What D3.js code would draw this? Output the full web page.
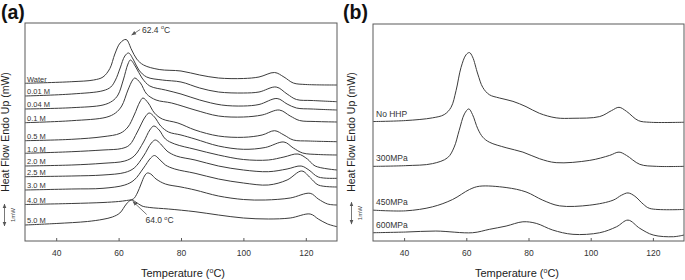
<!DOCTYPE html>
<html><head><meta charset="utf-8">
<script src="https://cdn.jsdelivr.net/npm/d3@7"></script>
<style>body{margin:0;background:#fff}svg{display:block}</style>
</head><body>
<script>
// ---------- DATA ----------
const xTicks = [40, 60, 80, 100, 120];
const xDomain = [30, 130];

// Panel (a): heat flow (arbitrary offset units, 1 mW ~ 22 units) vs temperature (°C)
const labelsA = ["Water","0.01 M","0.04 M","0.1 M","0.5 M","1.0 M","2.0 M","2.5 M","3.0 M","4.0 M","5.0 M"];
const aWater = [[30,157.7],[45,159.3],[52,161],[55,164],[57.2,172.5],[58.8,187],[60.5,198],[62.4,201.5],[64.2,191],[65.8,182],[68,176],[73,171.5],[80,170],[86,166],[92,163],[100,162.5],[105,164],[110,168.5],[113,164],[116,158],[120,156.5],[130,156]];
const a001 = [[30,145],[45,147],[55,150.3],[57.5,154],[59,161],[60.5,173],[62,185],[63.2,188],[64.8,181],[66.5,171],[69,164],[74,161],[80,159],[86,153],[92,149],[100,148],[105,149],[110.5,154],[114,147],[117,141.5],[122,140.5],[130,139.3]];
const a004 = [[30,132],[45,133.3],[55,136],[58,140],[59.8,146],[61.5,161],[63,177],[63.8,181],[65.5,174],[67.5,163],[70,155],[75,151],[80,147],[86,141],[93,136],[100,135],[105,136.5],[110.8,142.5],[114,137],[117,133],[122,132],[130,131]];
const a01 = [[30,118.3],[45,120.3],[56,123.7],[59,128],[61,135],[63,151],[64.5,161],[65.2,163],[67,158],[69,147],[72,141],[77,138],[84.5,131],[92,125],[100,124],[106,126],[111.5,131],[115,125],[118,120.5],[123,119.5],[130,119]];
const a05 = [[30,100.3],[45,101.7],[55,104.3],[60.5,107.7],[63,114],[65,126],[66.8,139],[67.8,143],[69.5,138],[71.5,128],[74,122],[79,118],[84.5,111],[92,105],[100,103.7],[106,106],[110,110.3],[113,106],[116,101],[121,100],[130,99.3]];
const a10 = [[30,87.7],[45,89.3],[55,91],[61,92.5],[63.5,96],[66,109],[68.5,124],[69.8,128],[71.5,124],[73.5,115],[76,109],[80,106],[84.5,102],[92,95],[100,91.7],[107,93.5],[113,99],[116,93],[119,88],[124,86.5],[130,86]];
const a20 = [[30,75],[45,76],[55,77.7],[62,80],[65,85],[68,99],[70,111],[71.3,115],[73,111],[75,102],[78,97],[84.5,91.7],[92,86],[100,81.5],[108,81],[113,84],[117.5,87],[120.5,82],[123,75],[130,71]];
const a25 = [[30,64.3],[45,65],[55,66],[62,68.5],[65,73],[68,85],[70.5,98],[71.8,101],[73.5,97],[75.5,90],[78.5,85],[84.5,81],[92,75],[100,71],[108,69.3],[114,72],[118.5,75],[121,71],[124,64],[130,62.7]];
const a30 = [[30,51],[45,52],[55,52.7],[62,56],[65,61],[68,73],[70.3,83],[71.5,85.5],[73,82],[75,76],[78,72],[84.5,67.7],[92,62],[100,58],[108,56],[114,61],[118.7,70],[121.5,63],[124,56],[130,54]];
const a40 = [[30,36.5],[45,37.5],[55,38.5],[60,39.5],[62.5,40.5],[64.7,42],[66,48],[67.2,57],[68.3,65],[69.2,68],[70.3,67],[72,62],[75,57],[80,54],[84.5,51],[92,45],[100,41.5],[107,41],[115,43],[121.4,47.7],[124,42],[127,37],[130,36]];
const a50 = [[30,16],[40,17.5],[50,19.5],[55,21.7],[58,24],[60.4,28],[62.5,37],[64,41],[65.5,39],[67.5,35],[70,33.5],[76,32],[84.5,29.3],[92,26],[100,23],[108,22],[115,23],[121.4,27],[124,22],[127,17],[130,14.3]];
const seriesA = [aWater,a001,a004,a01,a05,a10,a20,a25,a30,a40,a50];

// Panel (b)
const labelsB = ["No HHP","300MPa","450MPa","600MPa"];
const bNo = [[30,120],[40.5,121],[49.1,123.7],[52.9,127],[55.1,134.3],[56.7,151],[58.3,174.3],[59.9,187],[61,189.3],[62,185],[63.7,167.7],[65.3,154.3],[67.4,147],[70.6,143.7],[75,140.3],[79.2,135],[83.5,128.3],[88.9,123.7],[94.3,123.3],[102.9,125],[106.7,131],[109.1,134.3],[111.5,130.3],[115.3,121],[119,119.3],[130,119.3]];
const b300 = [[30,75],[40.5,75.7],[49.1,77.7],[54,83.7],[56.1,94.3],[57.7,111],[59.4,127.7],[60.8,132.7],[62,127],[63.7,112.7],[65.3,104.3],[67.4,99.3],[72.8,93.7],[78.2,89.3],[83.5,82.7],[88.9,78.7],[99.7,81],[106.1,86],[109.1,89.3],[111.5,86],[115.8,77],[121.2,75],[130,75]];
const b450 = [[30,31],[40.5,30.3],[49.1,34.3],[55.6,41.7],[61,51.7],[64.2,55],[72.8,53.7],[79.2,49.3],[84.6,41],[90,35.3],[99.7,36],[107.2,41],[109.9,46],[112,48.3],[114.2,45],[116.9,37],[119,32.7],[130,31.7]];
const b600 = [[30,8.3],[40.5,9],[50.2,10],[62,8.3],[67.4,11.7],[72.8,15],[78.2,19.3],[82.5,17.7],[87.8,11],[94.3,6.7],[102.9,8.3],[108.3,14.3],[112,21],[115.8,12.7],[120.1,6],[126.6,4.3],[130,6]];
const seriesB = [bNo,b300,b450,b600];

const yDomain = [0, 218];
const oneMW = 22;   // units per mW (scale bar)

// ---------- DRAW ----------
const W = 685, H = 280;
const FONT = "'Liberation Sans', Arial, Helvetica, sans-serif";
const svg = d3.select("body").append("svg").attr("width", W).attr("height", H)
  .style("font-family", FONT);

const defs = svg.append("defs");
defs.append("marker").attr("id","ah").attr("viewBox","0 0 10 10").attr("refX",9).attr("refY",5)
  .attr("markerWidth",6).attr("markerHeight",6).attr("orient","auto-start-reverse")
  .append("path").attr("d","M0,1 L10,5 L0,9 z").attr("fill","#555");

function panel(opt) {
  const x = d3.scaleLinear().domain(xDomain).range([opt.left, opt.right]);
  const y = d3.scaleLinear().domain(yDomain).range([241, opt.top]);
  const g = svg.append("g");

  const line = d3.line().x(d => x(d[0])).y(d => y(d[1])).curve(d3.curveCatmullRom.alpha(0.5));
  g.selectAll("path.curve").data(opt.series).join("path").attr("class","curve")
    .attr("d", line).attr("fill","none").attr("stroke","#3c3c3c").attr("stroke-width",1);

  // frame
  g.append("rect").attr("x", opt.left).attr("y", opt.top)
    .attr("width", opt.right - opt.left).attr("height", 241 - opt.top)
    .attr("fill","none").attr("stroke","#5a5a5a").attr("stroke-width",1);

  // axis
  const ax = g.append("g").attr("transform", `translate(0,241)`)
    .call(d3.axisBottom(x).tickValues(xTicks).tickSizeInner(-3).tickSizeOuter(0).tickPadding(9));
  ax.select(".domain").remove();
  ax.selectAll("line").attr("stroke","#5a5a5a");
  ax.selectAll("text").attr("font-size", 8.5).attr("fill","#333").style("font-family", FONT);

  // series labels
  g.selectAll("text.lab").data(opt.labels).join("text").attr("class","lab")
    .attr("x", opt.left + opt.labDx)
    .attr("y", (d,i) => y(opt.series[i][0][1]) - opt.labDy)
    .attr("font-size", opt.labSize).attr("fill","#333").text(d => d);

  // x title
  const xt = g.append("text").attr("x", opt.xTitleX).attr("y", 277)
    .attr("font-size", 11).attr("fill","#222");
  xt.append("tspan").text("Temperature (");
  xt.append("tspan").attr("font-size", 7).attr("dy", -4).text("o");
  xt.append("tspan").attr("dy", 4).text("C)");

  // y title
  svg.append("text").attr("transform", `translate(${opt.yTitleX},132) rotate(-90)`)
    .attr("text-anchor","middle").attr("font-size", 10.5).attr("fill","#222")
    .text("Heat Flow Endo Up (mW)");

  // scale bar
  const sbY0 = y(opt.sbBase), sbY1 = y(opt.sbBase + oneMW);
  svg.append("line").attr("x1", opt.sbX).attr("x2", opt.sbX).attr("y1", sbY0).attr("y2", sbY1)
    .attr("stroke","#555").attr("stroke-width",0.8)
    .attr("marker-start","url(#ah)").attr("marker-end","url(#ah)");
  svg.append("text").attr("transform", `translate(${opt.sbX + 10},${(sbY0+sbY1)/2}) rotate(-90)`)
    .attr("text-anchor","middle").attr("font-size", 6).attr("fill","#444").text("1mW");

  // panel letter
  svg.append("text").attr("x", opt.letterX).attr("y", 18.5).attr("font-size", 19.5)
    .attr("font-weight","bold").attr("fill","#111").text(opt.letter);

  return {x, y, g};
}

const A = panel({left:25, right:337, top:23, series:seriesA, labels:labelsA, labDx:2, labDy:1.8, labSize:7.5,
  xTitleX:141, yTitleX:8.5, sbX:4.5, sbBase:15, letterX:1, letter:"(a)"});
const B = panel({left:373, right:684, top:24, series:seriesB, labels:labelsB, labDx:3, labDy:5, labSize:8.5,
  xTitleX:475, yTitleX:355, sbX:351.5, sbBase:17, letterX:343, letter:"(b)"});

// peak annotations (panel a)
function annot(P, tip, tail, textPos, label) {
  svg.append("line").attr("x1", P.x(tail[0])).attr("y1", P.y(tail[1]))
    .attr("x2", P.x(tip[0])).attr("y2", P.y(tip[1]))
    .attr("stroke","#555").attr("stroke-width",0.8).attr("marker-end","url(#ah)");
  const t = svg.append("text").attr("x", P.x(textPos[0])).attr("y", P.y(textPos[1]))
    .attr("font-size", 8.5).attr("fill","#333");
  t.append("tspan").text(label + " ");
  t.append("tspan").attr("font-size", 5.5).attr("dy", -3.5).text("o");
  t.append("tspan").attr("dy", 3.5).text("C");
}
annot(A, [64.2, 206], [66.9, 211.5], [67.5, 208.5], "62.4");
annot(A, [64.6, 39.5], [69.0, 26.5], [68.6, 18], "64.0");
</script>
</body></html>
